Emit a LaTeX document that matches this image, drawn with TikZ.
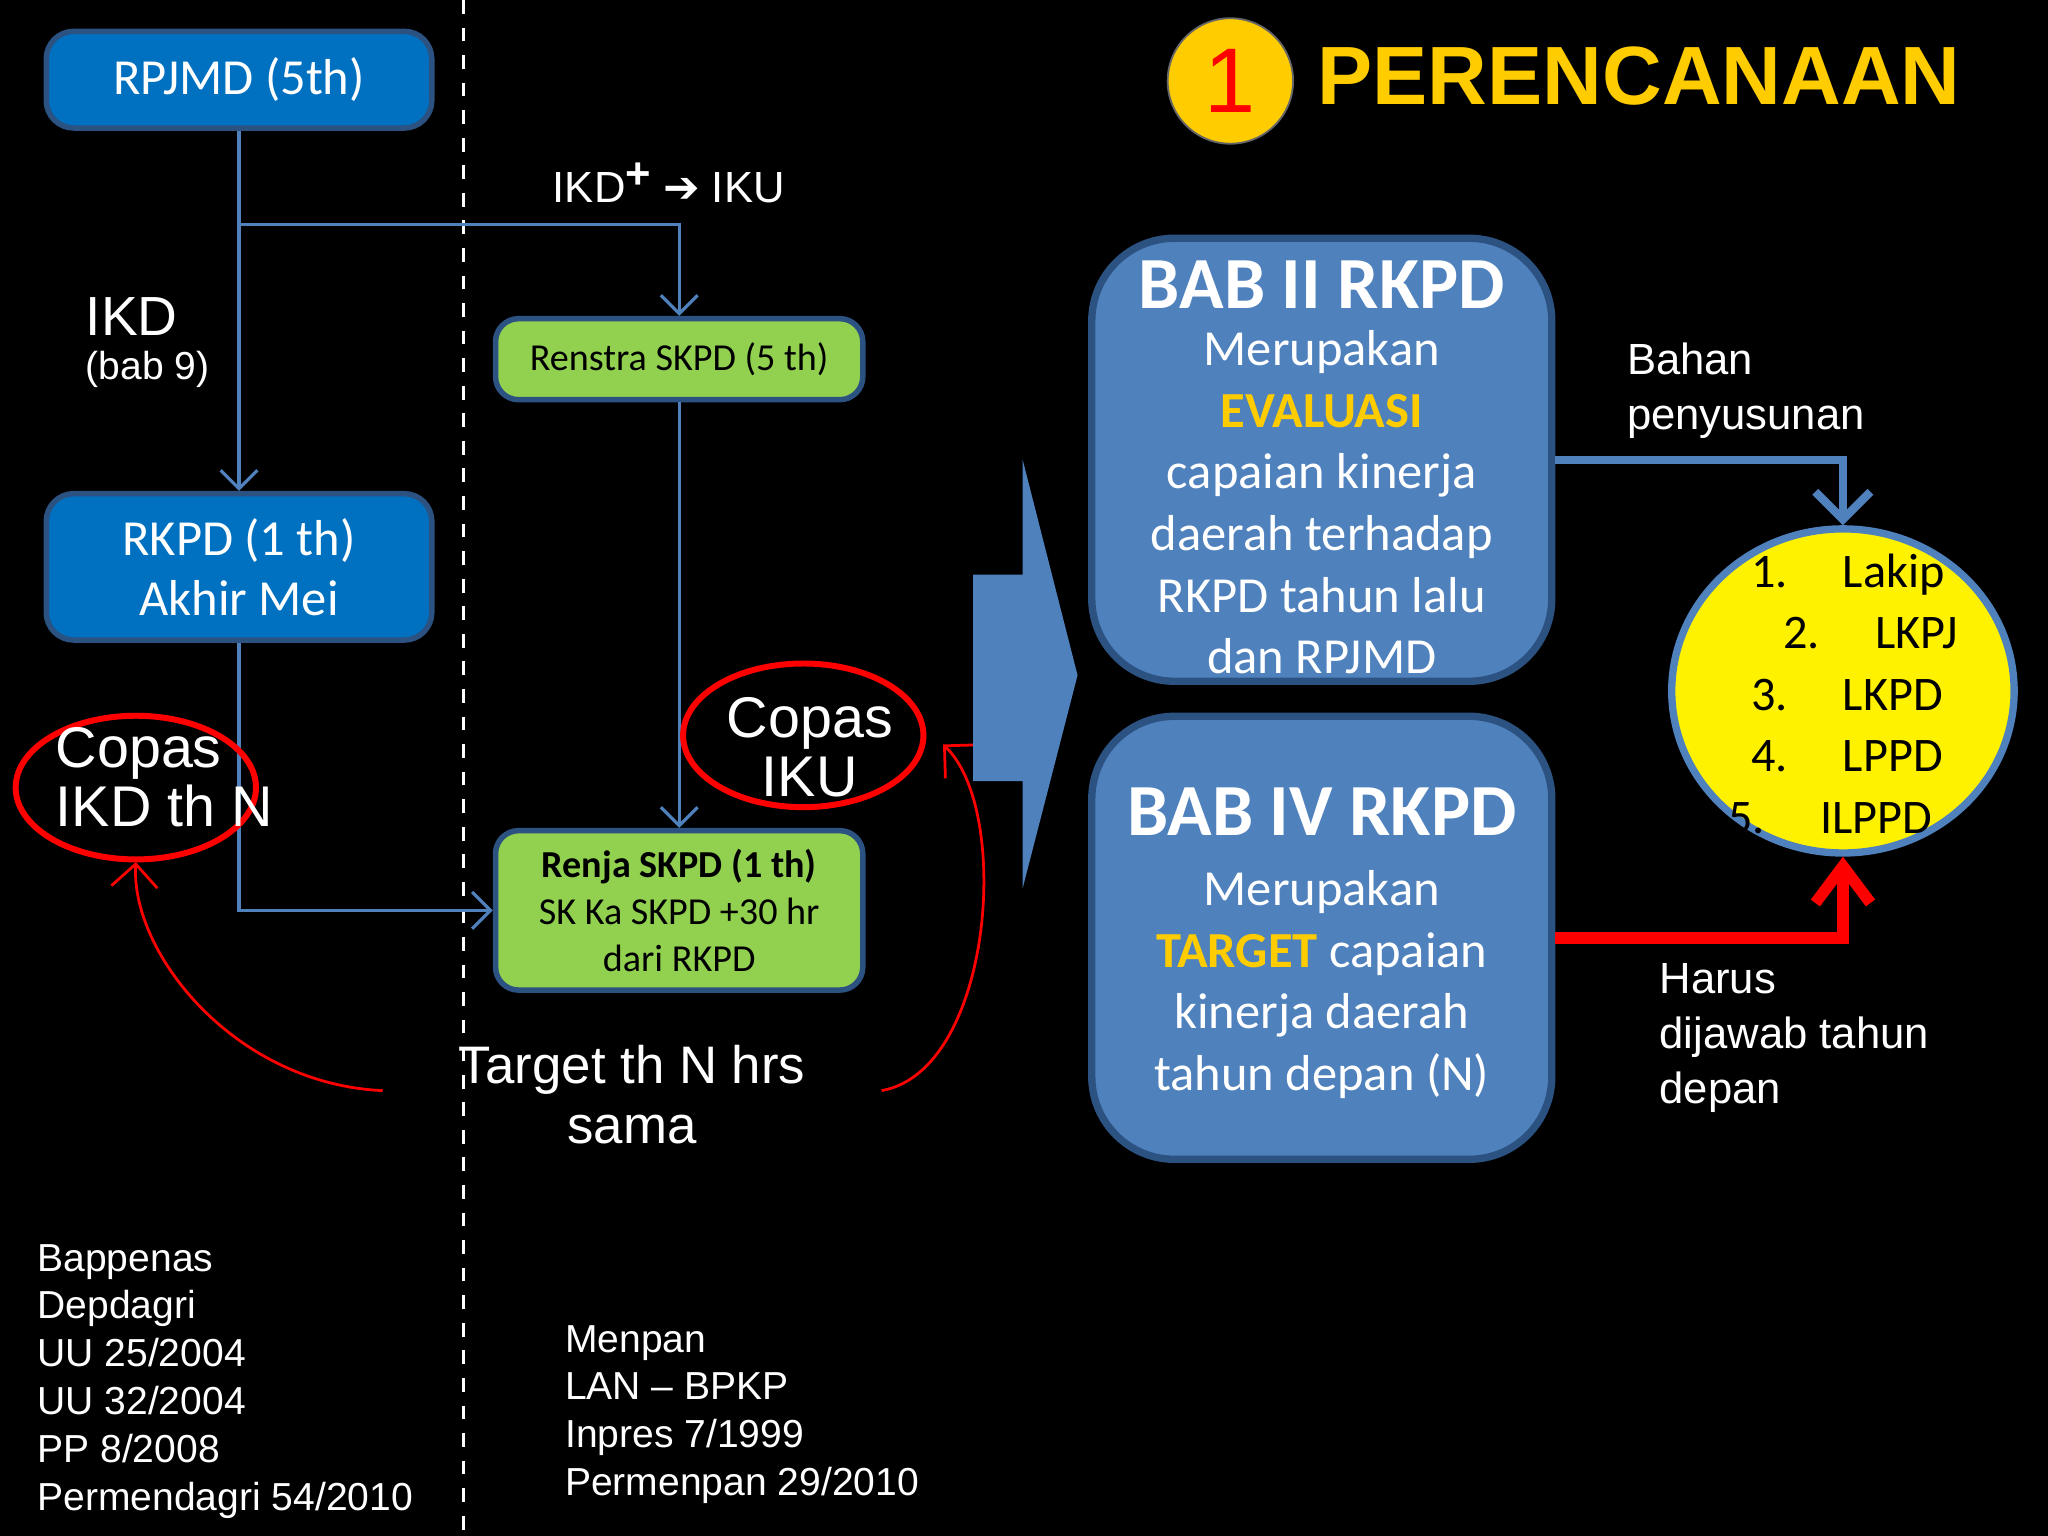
\documentclass[tikz,border=0pt]{standalone}
\usepackage{fontspec}
\setmainfont{Liberation Sans}
\newfontfamily\calfont{Carlito}
\newfontfamily\dejavu{DejaVu Sans}
\usetikzlibrary{arrows.meta,shapes.geometric}
\definecolor{bblue}{RGB}{0,112,192}
\definecolor{sblue}{RGB}{79,129,189}
\definecolor{dblue}{RGB}{44,82,130}
\definecolor{lgreen}{RGB}{146,208,80}
\definecolor{gold}{RGB}{255,204,0}
\tikzset{
 darkbox/.style={draw=dblue,line width=1.2pt,fill=bblue,rounded corners=6pt,text=white,font=\calfont\fontsize{11}{13}\selectfont,align=center,inner sep=0},
 greenbox/.style={draw=dblue,line width=1.2pt,fill=lgreen,rounded corners=5pt,text=black,font=\calfont\fontsize{8.3}{10.3}\selectfont,align=center,inner sep=0},
 bigbox/.style={draw=dblue,line width=1.6pt,fill=sblue,rounded corners=18pt,inner sep=0},
 conn/.style={sblue,line width=0.7pt,-{Straight Barb[length=4pt]}},
 redc/.style={red,line width=0.6pt,-{Straight Barb[length=5pt]}},
 wt/.style={text=white,inner sep=0}
}
\begin{document}
\begin{tikzpicture}[x=0.01cm,y=-0.01cm]
\fill[black] (0,0) rectangle (1568,1176);
\useasboundingbox (0,0) rectangle (1568,1176);
\draw[white,dashed,line width=0.6pt] (355,0) -- (355,1176);
% boxes
\node[darkbox,minimum width=2.95cm,minimum height=0.74cm] (rpjmd) at (183,61) {RPJMD (5th)};
\node[darkbox,minimum width=2.95cm,minimum height=1.12cm] (rkpd) at (183,434) {RKPD (1 th)\\Akhir Mei};
\node[greenbox,minimum width=2.81cm,minimum height=0.62cm] (renstra) at (520,275) {Renstra SKPD (5 th)};
\node[greenbox,minimum width=2.81cm,minimum height=1.22cm] (renja) at (520,697) {\textbf{Renja SKPD (1 th)}\\SK Ka SKPD +30 hr\\dari RKPD};
\coordinate (br) at (183,172);
\draw[conn] (rpjmd.south) -- (rkpd.north);
\draw[conn] (br) -| (renstra.north);
\draw[conn] (renstra.south) -- (renja.north);
\draw[conn] (rkpd.south) |- (renja.west);
% labels
\node[wt,anchor=west,font=\fontsize{12}{14}\selectfont] (ikd) at (65,242) {IKD};
\node[wt,anchor=west,font=\fontsize{8.5}{10}\selectfont] (bab9) at (65,283) {(bab 9)};
\node[wt,font=\fontsize{9.5}{11}\selectfont] (ikdiku) at (512,140) {IKD\raisebox{3pt}{\textbf{+}} {\dejavu\textbf{\symbol{"2794}}} IKU};
% red ellipses
\draw[red,line width=1.3pt] (104,603) ellipse [x radius=92,y radius=55];
\node[wt,anchor=west,align=left,font=\fontsize{12.5}{13}\selectfont] (cop1) at (42,595) {Copas\\IKD th N};
\draw[red,line width=1.3pt] (615,563) ellipse [x radius=92,y radius=55];
\node[wt,align=center,font=\fontsize{12.5}{13}\selectfont] (cop2) at (620,572) {Copas\\IKU};
\node[wt,align=center,font=\fontsize{11.5}{13.2}\selectfont] (target) at (484,838) {Target th N hrs\\sama};
\coordinate (c1s) at (293,835); \coordinate (c1e) at (104,660);
\coordinate (c2s) at (675,835); \coordinate (c2e) at (722,570);
\draw[redc] (c1s) .. controls (180,830) and (100,730) .. (c1e);
\draw[redc] (c2s) .. controls (760,820) and (775,620) .. (c2e);
% big arrow
\fill[sblue] (745,440) -- (783,440) -- (783,352) -- (825,517) -- (783,680) -- (783,598) -- (745,598) -- cycle;
% big boxes
\node[bigbox,minimum width=3.52cm,minimum height=3.39cm] (bab2) at (1012,352) {};
\node[wt,align=center,font=\calfont\fontsize{11}{13.4}\selectfont] (t2) at (1012,358) {{\fontsize{16}{18}\selectfont\textbf{BAB II RKPD}}\\[-1pt]Merupakan\\\textcolor{gold}{\textbf{EVALUASI}}\\capaian kinerja\\daerah terhadap\\RKPD tahun lalu\\dan RPJMD};
\node[bigbox,minimum width=3.52cm,minimum height=3.39cm] (bab4) at (1012,718) {};
\node[wt,align=center,font=\calfont\fontsize{11}{13.4}\selectfont] (t4) at (1012,722) {{\fontsize{16}{18}\selectfont\textbf{BAB IV RKPD}}\\[2pt]Merupakan\\\textcolor{gold}{\textbf{TARGET}} capaian\\kinerja daerah\\tahun depan (N)};
% circle
\node[draw=sblue,line width=1.6pt,fill=yellow,ellipse,minimum width=2.62cm,minimum height=2.48cm,inner sep=0] (list) at (1411,529) {};
\node[inner sep=0,align=left,font=\calfont\fontsize{10.5}{13.4}\selectfont] (items) at (1411,531) {\hspace*{5pt}1.\hspace{12pt}Lakip\\\hspace*{12pt}2.\hspace{12pt}LKPJ\\\hspace*{5pt}3.\hspace{12pt}LKPD\\\hspace*{5pt}4.\hspace{12pt}LPPD\\5.\hspace{12pt}ILPPD};
\draw[sblue,line width=1.8pt,-{Straight Barb[length=6pt]}] (bab2.east) -- (1411,352) -- (list.north);
\draw[red,line width=2.5pt,-{Straight Barb[length=8pt,width=12pt]}] (bab4.east) -- (1411,718) -- (list.south);
\node[wt,anchor=north west,align=left,font=\fontsize{9.5}{12}\selectfont] (bahan) at (1245,262) {Bahan\\penyusunan};
\node[wt,anchor=north west,align=left,font=\fontsize{9.5}{12}\selectfont] (harus) at (1270,737) {Harus\\dijawab tahun\\depan};
% title
\node[circle,fill=gold,draw=black!60,minimum size=0.96cm,inner sep=0,text=red,font=\fontsize{20}{22}\selectfont] (one) at (942,62) {1};
\node[anchor=west,inner sep=0,text=gold,font=\bfseries\fontsize{18}{20}\selectfont] (title) at (1008,58) {PERENCANAAN};
% bottom lists
\node[wt,anchor=north west,align=left,font=\fontsize{8.5}{10.4}\selectfont] (refs1) at (28,952) {Bappenas\\Depdagri\\UU 25/2004\\UU 32/2004\\PP 8/2008\\Permendagri 54/2010};
\node[wt,anchor=north west,align=left,font=\fontsize{8.5}{10.4}\selectfont] (refs2) at (432,1014) {Menpan\\LAN -- BPKP\\Inpres 7/1999\\Permenpan 29/2010};
\end{tikzpicture}
\end{document}
